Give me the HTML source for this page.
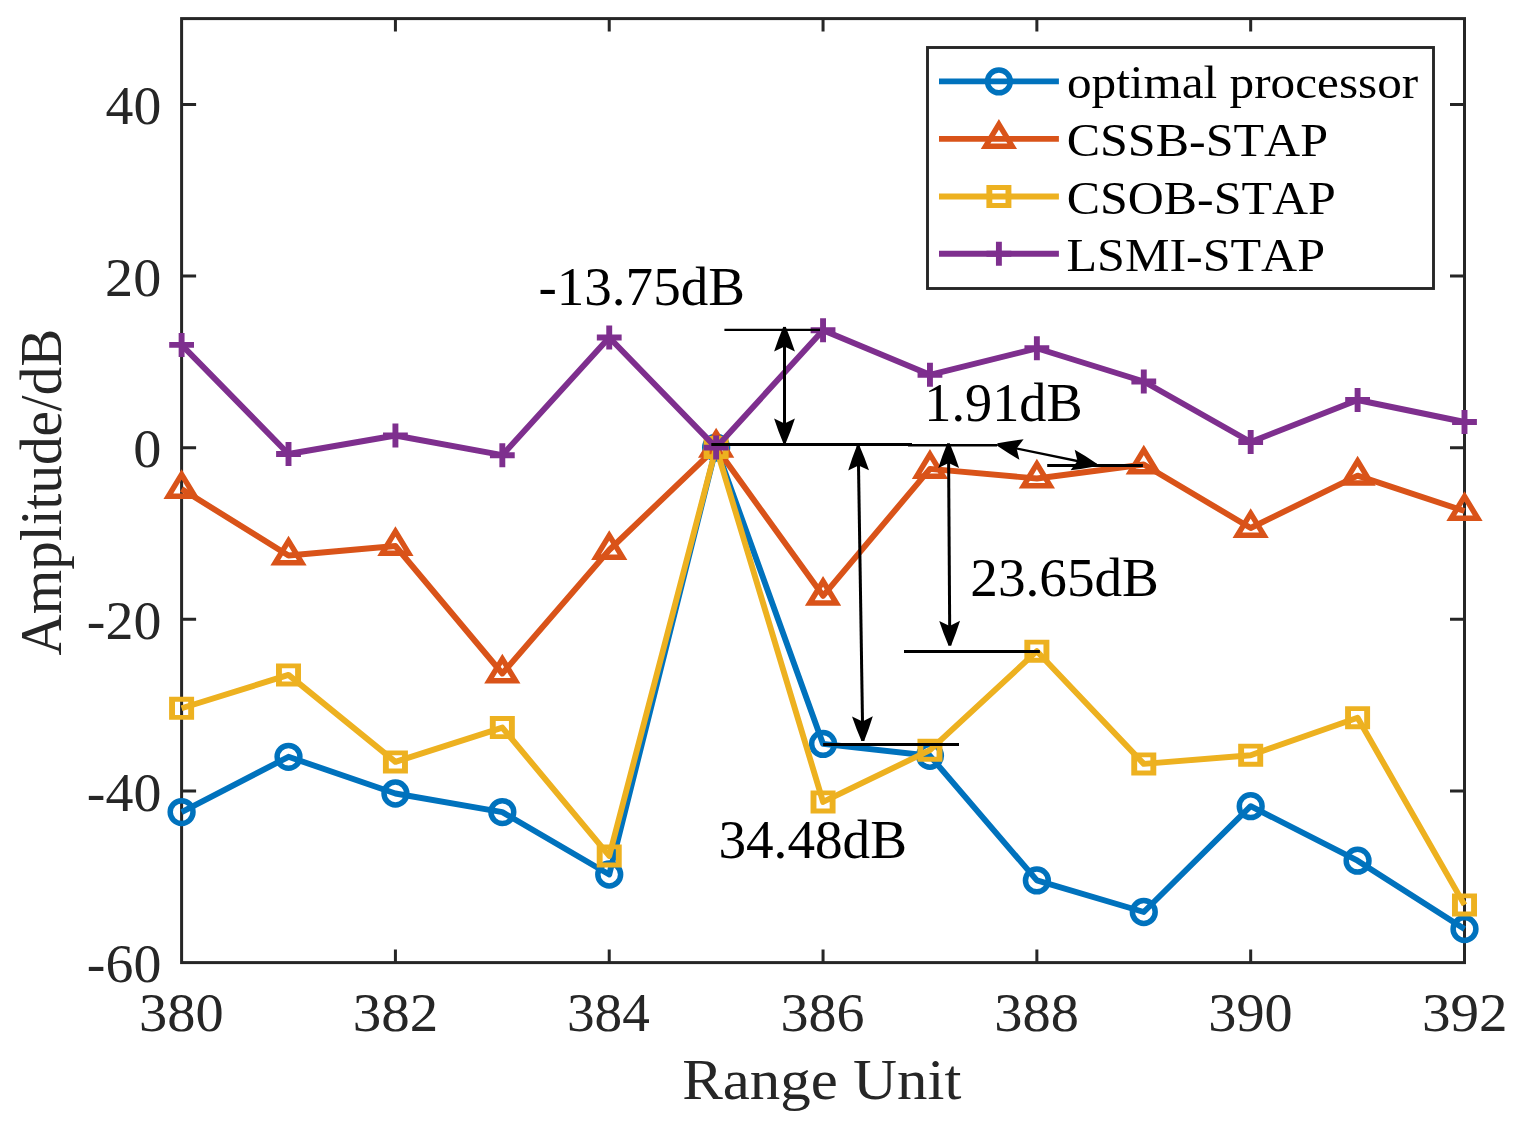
<!DOCTYPE html>
<html lang="en"><head><meta charset="utf-8"><title>Range Unit vs Amplitude</title>
<style>html,body{margin:0;padding:0;background:#fff}svg{display:block;font-kerning:none}</style></head>
<body>
<svg width="1519" height="1125" viewBox="0 0 1519 1125" font-family="'Liberation Serif', 'Times New Roman', serif">
<rect width="1519" height="1125" fill="#fff"/>
<g stroke="#262626" stroke-width="3" fill="none">
<rect x="181.6" y="18.6" width="1282.9" height="944"/>
<path d="M395.42 962.6v-13M395.42 18.6v13M609.23 962.6v-13M609.23 18.6v13M823.05 962.6v-13M823.05 18.6v13M1036.87 962.6v-13M1036.87 18.6v13M1250.68 962.6v-13M1250.68 18.6v13M181.6 790.96h14.5M1464.5 790.96h-14.5M181.6 619.33h14.5M1464.5 619.33h-14.5M181.6 447.69h14.5M1464.5 447.69h-14.5M181.6 276.05h14.5M1464.5 276.05h-14.5M181.6 104.42h14.5M1464.5 104.42h-14.5"/>
</g>
<g>
<polyline points="181.6,812.1 288.51,756.8 395.42,793.5 502.33,812.1 609.23,874.5 716.14,447.6 823.05,743.9 929.96,755.8 1036.87,880.4 1143.78,912 1250.68,806.2 1357.59,860.7 1464.5,929" fill="none" stroke="#0072BD" stroke-width="5.9" stroke-linejoin="round"/>
<circle cx="181.6" cy="812.1" r="11.4" fill="none" stroke="#0072BD" stroke-width="5.5"/>
<circle cx="288.51" cy="756.8" r="11.4" fill="none" stroke="#0072BD" stroke-width="5.5"/>
<circle cx="395.42" cy="793.5" r="11.4" fill="none" stroke="#0072BD" stroke-width="5.5"/>
<circle cx="502.33" cy="812.1" r="11.4" fill="none" stroke="#0072BD" stroke-width="5.5"/>
<circle cx="609.23" cy="874.5" r="11.4" fill="none" stroke="#0072BD" stroke-width="5.5"/>
<circle cx="716.14" cy="447.6" r="11.4" fill="none" stroke="#0072BD" stroke-width="5.5"/>
<circle cx="823.05" cy="743.9" r="11.4" fill="none" stroke="#0072BD" stroke-width="5.5"/>
<circle cx="929.96" cy="755.8" r="11.4" fill="none" stroke="#0072BD" stroke-width="5.5"/>
<circle cx="1036.87" cy="880.4" r="11.4" fill="none" stroke="#0072BD" stroke-width="5.5"/>
<circle cx="1143.78" cy="912" r="11.4" fill="none" stroke="#0072BD" stroke-width="5.5"/>
<circle cx="1250.68" cy="806.2" r="11.4" fill="none" stroke="#0072BD" stroke-width="5.5"/>
<circle cx="1357.59" cy="860.7" r="11.4" fill="none" stroke="#0072BD" stroke-width="5.5"/>
<circle cx="1464.5" cy="929" r="11.4" fill="none" stroke="#0072BD" stroke-width="5.5"/>
<polyline points="181.6,489 288.51,555.5 395.42,546 502.33,673.5 609.23,550 716.14,447.6 823.05,595.8 929.96,468.9 1036.87,478.5 1143.78,464.5 1250.68,528 1357.59,475.6 1464.5,511" fill="none" stroke="#D95319" stroke-width="5.9" stroke-linejoin="round"/>
<path d="M181.6 474.43L194.85 496.28L168.35 496.28Z" fill="none" stroke="#D95319" stroke-width="5.5" stroke-linejoin="miter"/>
<path d="M288.51 540.93L301.76 562.78L275.26 562.78Z" fill="none" stroke="#D95319" stroke-width="5.5" stroke-linejoin="miter"/>
<path d="M395.42 531.43L408.67 553.28L382.17 553.28Z" fill="none" stroke="#D95319" stroke-width="5.5" stroke-linejoin="miter"/>
<path d="M502.33 658.93L515.58 680.78L489.08 680.78Z" fill="none" stroke="#D95319" stroke-width="5.5" stroke-linejoin="miter"/>
<path d="M609.23 535.43L622.48 557.28L595.98 557.28Z" fill="none" stroke="#D95319" stroke-width="5.5" stroke-linejoin="miter"/>
<path d="M716.14 433.03L729.39 454.88L702.89 454.88Z" fill="none" stroke="#D95319" stroke-width="5.5" stroke-linejoin="miter"/>
<path d="M823.05 581.23L836.3 603.08L809.8 603.08Z" fill="none" stroke="#D95319" stroke-width="5.5" stroke-linejoin="miter"/>
<path d="M929.96 454.33L943.21 476.18L916.71 476.18Z" fill="none" stroke="#D95319" stroke-width="5.5" stroke-linejoin="miter"/>
<path d="M1036.87 463.93L1050.12 485.78L1023.62 485.78Z" fill="none" stroke="#D95319" stroke-width="5.5" stroke-linejoin="miter"/>
<path d="M1143.78 449.93L1157.03 471.78L1130.53 471.78Z" fill="none" stroke="#D95319" stroke-width="5.5" stroke-linejoin="miter"/>
<path d="M1250.68 513.43L1263.93 535.28L1237.43 535.28Z" fill="none" stroke="#D95319" stroke-width="5.5" stroke-linejoin="miter"/>
<path d="M1357.59 461.03L1370.84 482.88L1344.34 482.88Z" fill="none" stroke="#D95319" stroke-width="5.5" stroke-linejoin="miter"/>
<path d="M1464.5 496.43L1477.75 518.28L1451.25 518.28Z" fill="none" stroke="#D95319" stroke-width="5.5" stroke-linejoin="miter"/>
<polyline points="181.6,708.3 288.51,674.9 395.42,761.9 502.33,727.6 609.23,855.9 716.14,447.6 823.05,801.9 929.96,750.2 1036.87,651.2 1143.78,763.9 1250.68,755.2 1357.59,717.7 1464.5,904.9" fill="none" stroke="#EDB120" stroke-width="5.9" stroke-linejoin="round"/>
<path fill-rule="evenodd" fill="#EDB120" d="M169.1 696.8h25v23h-25zM175 701.7h13.2v13.2h-13.2z"/>
<path fill-rule="evenodd" fill="#EDB120" d="M276.01 663.4h25v23h-25zM281.91 668.3h13.2v13.2h-13.2z"/>
<path fill-rule="evenodd" fill="#EDB120" d="M382.92 750.4h25v23h-25zM388.82 755.3h13.2v13.2h-13.2z"/>
<path fill-rule="evenodd" fill="#EDB120" d="M489.83 716.1h25v23h-25zM495.73 721h13.2v13.2h-13.2z"/>
<path fill-rule="evenodd" fill="#EDB120" d="M596.73 844.4h25v23h-25zM602.63 849.3h13.2v13.2h-13.2z"/>
<path fill-rule="evenodd" fill="#EDB120" d="M703.64 436.1h25v23h-25zM709.54 441h13.2v13.2h-13.2z"/>
<path fill-rule="evenodd" fill="#EDB120" d="M810.55 790.4h25v23h-25zM816.45 795.3h13.2v13.2h-13.2z"/>
<path fill-rule="evenodd" fill="#EDB120" d="M917.46 738.7h25v23h-25zM923.36 743.6h13.2v13.2h-13.2z"/>
<path fill-rule="evenodd" fill="#EDB120" d="M1024.37 639.7h25v23h-25zM1030.27 644.6h13.2v13.2h-13.2z"/>
<path fill-rule="evenodd" fill="#EDB120" d="M1131.28 752.4h25v23h-25zM1137.18 757.3h13.2v13.2h-13.2z"/>
<path fill-rule="evenodd" fill="#EDB120" d="M1238.18 743.7h25v23h-25zM1244.08 748.6h13.2v13.2h-13.2z"/>
<path fill-rule="evenodd" fill="#EDB120" d="M1345.09 706.2h25v23h-25zM1350.99 711.1h13.2v13.2h-13.2z"/>
<path fill-rule="evenodd" fill="#EDB120" d="M1452 893.4h25v23h-25zM1457.9 898.3h13.2v13.2h-13.2z"/>
<polyline points="181.6,344.9 288.51,454 395.42,435.5 502.33,455.2 609.23,337.5 716.14,447.6 823.05,330.2 929.96,374.8 1036.87,348.3 1143.78,381.5 1250.68,442 1357.59,400 1464.5,422" fill="none" stroke="#7E2F8E" stroke-width="5.9" stroke-linejoin="round"/>
<path d="M169.2 344.9H194M181.6 332.9V356.9" fill="none" stroke="#7E2F8E" stroke-width="5.9"/>
<path d="M276.11 454H300.91M288.51 442V466" fill="none" stroke="#7E2F8E" stroke-width="5.9"/>
<path d="M383.02 435.5H407.82M395.42 423.5V447.5" fill="none" stroke="#7E2F8E" stroke-width="5.9"/>
<path d="M489.93 455.2H514.73M502.33 443.2V467.2" fill="none" stroke="#7E2F8E" stroke-width="5.9"/>
<path d="M596.83 337.5H621.63M609.23 325.5V349.5" fill="none" stroke="#7E2F8E" stroke-width="5.9"/>
<path d="M703.74 447.6H728.54M716.14 435.6V459.6" fill="none" stroke="#7E2F8E" stroke-width="5.9"/>
<path d="M810.65 330.2H835.45M823.05 318.2V342.2" fill="none" stroke="#7E2F8E" stroke-width="5.9"/>
<path d="M917.56 374.8H942.36M929.96 362.8V386.8" fill="none" stroke="#7E2F8E" stroke-width="5.9"/>
<path d="M1024.47 348.3H1049.27M1036.87 336.3V360.3" fill="none" stroke="#7E2F8E" stroke-width="5.9"/>
<path d="M1131.38 381.5H1156.18M1143.78 369.5V393.5" fill="none" stroke="#7E2F8E" stroke-width="5.9"/>
<path d="M1238.28 442H1263.08M1250.68 430V454" fill="none" stroke="#7E2F8E" stroke-width="5.9"/>
<path d="M1345.19 400H1369.99M1357.59 388V412" fill="none" stroke="#7E2F8E" stroke-width="5.9"/>
<path d="M1452.1 422H1476.9M1464.5 410V434" fill="none" stroke="#7E2F8E" stroke-width="5.9"/>
</g>
<rect x="927.5" y="47.5" width="506" height="241" fill="#fff" stroke="#262626" stroke-width="2.9"/>
<path d="M939 81.4H1058.9" stroke="#0072BD" stroke-width="5.9"/>
<circle cx="998.9" cy="81.4" r="11.4" fill="none" stroke="#0072BD" stroke-width="5.5"/>
<path d="M939 138.9H1058.9" stroke="#D95319" stroke-width="5.9"/>
<path d="M998.9 124.33L1012.15 146.18L985.65 146.18Z" fill="none" stroke="#D95319" stroke-width="5.5" stroke-linejoin="miter"/>
<path d="M939 196.5H1058.9" stroke="#EDB120" stroke-width="5.9"/>
<path fill-rule="evenodd" fill="#EDB120" d="M986.4 185h25v23h-25zM992.3 189.9h13.2v13.2h-13.2z"/>
<path d="M939 253.8H1058.9" stroke="#7E2F8E" stroke-width="5.9"/>
<path d="M986.5 253.8H1011.3M998.9 241.8V265.8" fill="none" stroke="#7E2F8E" stroke-width="5.9"/>
<g stroke="#000" stroke-width="3">
<path d="M711.3 444.5H912" stroke-width="3.2"/>
<path d="M908 445.2H997" stroke-width="2.6"/>
<path d="M724.4 329.9H820" stroke-width="2.1"/>
<path d="M904 651.5H1039.9"/>
<path d="M823.1 744.4H959"/>
<path d="M1047.2 465.4H1142.9"/>
</g>
<path d="M784.5 326.9L784.5 443" stroke="#000" stroke-width="3"/><path transform="translate(784.5 443) rotate(90)" d="M0 -1.3Q-12.3 -6.45 -24.6 -10.4L-19.6 0L-24.6 10.4Q-12.3 6.45 0 1.3Z" fill="#000"/><path transform="translate(784.5 326.9) rotate(270)" d="M0 -1.3Q-12.3 -6.45 -24.6 -10.4L-19.6 0L-24.6 10.4Q-12.3 6.45 0 1.3Z" fill="#000"/>
<path d="M858.2 445.8L862.8 741" stroke="#000" stroke-width="3"/><path transform="translate(862.8 741) rotate(89.11)" d="M0 -1.3Q-12.3 -6.45 -24.6 -10.4L-19.6 0L-24.6 10.4Q-12.3 6.45 0 1.3Z" fill="#000"/><path transform="translate(858.2 445.8) rotate(269.11)" d="M0 -1.3Q-12.3 -6.45 -24.6 -10.4L-19.6 0L-24.6 10.4Q-12.3 6.45 0 1.3Z" fill="#000"/>
<path d="M948.5 443.4L949.8 645.5" stroke="#000" stroke-width="3"/><path transform="translate(949.8 645.5) rotate(89.63)" d="M0 -1.3Q-12.3 -6.45 -24.6 -10.4L-19.6 0L-24.6 10.4Q-12.3 6.45 0 1.3Z" fill="#000"/><path transform="translate(948.5 443.4) rotate(269.63)" d="M0 -1.3Q-12.3 -6.45 -24.6 -10.4L-19.6 0L-24.6 10.4Q-12.3 6.45 0 1.3Z" fill="#000"/>
<path d="M997.4 444.6L1096.7 465" stroke="#000" stroke-width="2.3"/><path transform="translate(1096.7 465) rotate(11.61)" d="M0 -1.3Q-12.3 -6.45 -24.6 -10.4L-19.6 0L-24.6 10.4Q-12.3 6.45 0 1.3Z" fill="#000"/><path transform="translate(997.4 444.6) rotate(191.61)" d="M0 -1.3Q-12.3 -6.45 -24.6 -10.4L-19.6 0L-24.6 10.4Q-12.3 6.45 0 1.3Z" fill="#000"/>
<text x="139.05" y="1030.7" font-size="54.5" fill="#262626" textLength="84.52" lengthAdjust="spacingAndGlyphs">380</text>
<text x="352.87" y="1030.7" font-size="54.5" fill="#262626" textLength="85.41" lengthAdjust="spacingAndGlyphs">382</text>
<text x="566.93" y="1030.7" font-size="54.5" fill="#262626" textLength="82.89" lengthAdjust="spacingAndGlyphs">384</text>
<text x="780.5" y="1030.7" font-size="54.5" fill="#262626" textLength="83.98" lengthAdjust="spacingAndGlyphs">386</text>
<text x="994.32" y="1030.7" font-size="54.5" fill="#262626" textLength="84.52" lengthAdjust="spacingAndGlyphs">388</text>
<text x="1208.38" y="1030.7" font-size="54.5" fill="#262626" textLength="84.27" lengthAdjust="spacingAndGlyphs">390</text>
<text x="1421.95" y="1030.7" font-size="54.5" fill="#262626" textLength="85.68" lengthAdjust="spacingAndGlyphs">392</text>
<text x="105.6" y="124.02" font-size="54.5" fill="#262626" textLength="55.7" lengthAdjust="spacingAndGlyphs">40</text>
<text x="105.1" y="295.65" font-size="54.5" fill="#262626" textLength="56.13" lengthAdjust="spacingAndGlyphs">20</text>
<text x="133.2" y="467.29" font-size="54.5" fill="#262626" textLength="28.15" lengthAdjust="spacingAndGlyphs">0</text>
<text x="86.85" y="638.93" font-size="54.5" fill="#262626" textLength="74.49" lengthAdjust="spacingAndGlyphs">-20</text>
<text x="86.85" y="810.56" font-size="54.5" fill="#262626" textLength="74.49" lengthAdjust="spacingAndGlyphs">-40</text>
<text x="86.85" y="982.2" font-size="54.5" fill="#262626" textLength="74.49" lengthAdjust="spacingAndGlyphs">-60</text>
<text x="682.15" y="1099.1" font-size="57.6" fill="#262626" textLength="279.27" lengthAdjust="spacingAndGlyphs">Range Unit</text>
<text transform="translate(60.9 655.4) rotate(-90)" font-size="58.4" fill="#262626" textLength="326.79" lengthAdjust="spacingAndGlyphs">Amplitude/dB</text>
<text x="1066.95" y="98.3" font-size="46.8" fill="#000" textLength="351.26" lengthAdjust="spacingAndGlyphs">optimal processor</text>
<text x="1066.7" y="155.9" font-size="46.8" fill="#000" textLength="261.31" lengthAdjust="spacingAndGlyphs">CSSB-STAP</text>
<text x="1066.7" y="214" font-size="46.8" fill="#000" textLength="269.06" lengthAdjust="spacingAndGlyphs">CSOB-STAP</text>
<text x="1066.5" y="271" font-size="46.8" fill="#000" textLength="258.55" lengthAdjust="spacingAndGlyphs">LSMI-STAP</text>
<text x="538.5" y="305.1" font-size="54" fill="#000" textLength="206.36" lengthAdjust="spacingAndGlyphs">-13.75dB</text>
<text x="924.35" y="421" font-size="54" fill="#000" textLength="158.35" lengthAdjust="spacingAndGlyphs">1.91dB</text>
<text x="970.3" y="596.1" font-size="54" fill="#000" textLength="188.65" lengthAdjust="spacingAndGlyphs">23.65dB</text>
<text x="718.4" y="858" font-size="54" fill="#000" textLength="188.65" lengthAdjust="spacingAndGlyphs">34.48dB</text>
</svg>
</body></html>
